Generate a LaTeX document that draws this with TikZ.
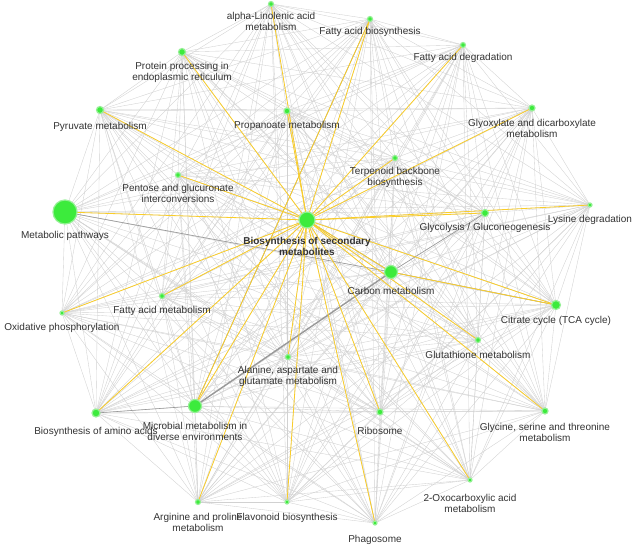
\documentclass[tikz,border=0pt]{standalone}
\usepackage{fontspec}
\setmainfont{Liberation Sans}
\begin{document}
\begin{tikzpicture}[x=1pt,y=-1pt,
  dot/.style={circle,fill={rgb,255:red,60;green,235;blue,60},draw={rgb,255:red,150;green,240;blue,150},line width=1.2pt,inner sep=0pt,minimum size=#1},
  dot/.default=5pt,
  lbl/.style={font=\fontsize{10}{11}\selectfont,text=black!80,align=center,inner sep=0pt},
  gedge/.style={draw=black!18,line width=0.35pt},
  dedge/.style={draw=black!40,line width=0.6pt},
  yedge/.style={draw={rgb,255:red,250;green,205;blue,40},line width=0.8pt}]
\useasboundingbox (0,0) rectangle (640,555);
\fill[white] (0,0) rectangle (640,555);
\foreach \n/\x/\y/\s in {a/271/4/5pt, b/370/19/5pt, c/463/45/5pt, d/182/52/7pt, e/532/108/6pt, f/100/110/7pt, g/287/111/6pt, h/395/158/5pt, i/178/175/5pt, j/65/212/24pt, k/307/220/16pt, l/485/213/7pt, m/590/205/4pt, n/391/272/13pt, o/162/296/5pt, p/62/313/4pt, q/556/305/9pt, r/478/340/5pt, s/288/357/5pt, t/195/406/13pt, u/96/413/8pt, v/380/412/6pt, w/545/411/6pt, x/470/480/4pt, y/198/502/5pt, z/287/502/4pt, zz/375/523/4pt}
  {\coordinate (\n) at (\x,\y); \expandafter\xdef\csname sz\n\endcsname{\s}}
\foreach \p [count=\i] in {a,b,c,d,e,f,g,h,i,j,k,l,m,n,o,p,q,r,s,t,u,v,w,x,y,z,zz}
  \foreach \q [count=\jj] in {a,b,c,d,e,f,g,h,i,j,k,l,m,n,o,p,q,r,s,t,u,v,w,x,y,z,zz}
    {\ifnum\jj>\i \draw[gedge] (\p) -- (\q);\fi}
\draw[dedge] (j) -- (n); \draw[dedge] (k) -- (n);
\draw[dedge,line width=1.4pt] (t) -- (n); \draw[dedge] (t) -- (b); \draw[dedge] (n) -- (q);
\draw[dedge] (n) -- (l); \draw[dedge] (t) -- (u);
\foreach \q in {a,b,c,d,e,f,g,h,i,j,l,m,n,o,p,q,r,s,t,u,v,w,x,y,z,zz}
  \draw[yedge] (k) -- (\q);
\draw[yedge] (n) -- (q); \draw[yedge] (t) -- (b); 
\foreach \n in {a,b,c,d,e,f,g,h,i,j,k,l,m,n,o,p,q,r,s,t,u,v,w,x,y,z,zz}
  {\edef\tmpsz{\csname sz\n\endcsname}\node[dot=\tmpsz] (N\n) at (\n) {};}
\node[lbl] (La) at (271,21) {alpha-Linolenic acid\\metabolism};
\node[lbl] (Lb) at (370,32) {Fatty acid biosynthesis};
\node[lbl] (Lc) at (463,58) {Fatty acid degradation};
\node[lbl] (Ld) at (182,72) {Protein processing in\\endoplasmic reticulum};
\node[lbl] (Le) at (532,128) {Glyoxylate and dicarboxylate\\metabolism};
\node[lbl] (Lf) at (100,127) {Pyruvate metabolism};
\node[lbl] (Lg) at (287,126) {Propanoate metabolism};
\node[lbl] (Lh) at (395,177) {Terpenoid backbone\\biosynthesis};
\node[lbl] (Li) at (178,193) {Pentose and glucuronate\\interconversions};
\node[lbl] (Lj) at (65,236) {Metabolic pathways};
\node[lbl,font=\fontsize{10}{11}\selectfont\bfseries] (Lk) at (307,246) {Biosynthesis of secondary\\metabolites};
\node[lbl] (Ll) at (485,228) {Glycolysis / Gluconeogenesis};
\node[lbl] (Lm) at (590,220) {Lysine degradation};
\node[lbl] (Ln) at (391,291) {Carbon metabolism};
\node[lbl] (Lo) at (162,311) {Fatty acid metabolism};
\node[lbl] (Lp) at (62,328) {Oxidative phosphorylation};
\node[lbl] (Lq) at (556,321) {Citrate cycle (TCA cycle)};
\node[lbl] (Lr) at (478,355) {Glutathione metabolism};
\node[lbl] (Ls) at (288,376) {Alanine, aspartate and\\glutamate metabolism};
\node[lbl] (Lt) at (195,431) {Microbial metabolism in\\diverse environments};
\node[lbl] (Lu) at (96,432) {Biosynthesis of amino acids};
\node[lbl] (Lv) at (380,431) {Ribosome};
\node[lbl] (Lw) at (545,432) {Glycine, serine and threonine\\metabolism};
\node[lbl] (Lx) at (470,503) {2-Oxocarboxylic acid\\metabolism};
\node[lbl] (Ly) at (198,522) {Arginine and proline\\metabolism};
\node[lbl] (Lz) at (287,518) {Flavonoid biosynthesis};
\node[lbl] (Lzz) at (375,540) {Phagosome};
\end{tikzpicture}
\end{document}
